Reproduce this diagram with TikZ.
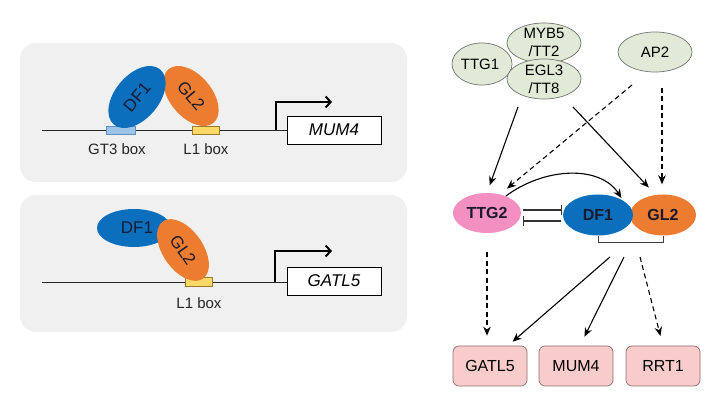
\documentclass[tikz,border=0pt]{standalone}
\usepackage{fontspec}
\setmainfont{Liberation Sans}
\usetikzlibrary{shapes.geometric,arrows.meta}
\definecolor{panelgray}{HTML}{F0F0F0}
\definecolor{dfblue}{HTML}{0B6FBE}
\definecolor{glorange}{HTML}{EC7C30}
\definecolor{gtblue}{HTML}{9DC3E6}
\definecolor{gtborder}{HTML}{5B8FC7}
\definecolor{lyellow}{HTML}{FFD966}
\definecolor{lyborder}{HTML}{9C7A2A}
\definecolor{pgreen}{HTML}{E1EAD6}
\definecolor{ttgpink}{HTML}{F48FC2}
\definecolor{tpink}{HTML}{F9CCCC}
\definecolor{tborder}{HTML}{8E6E6E}
\definecolor{txtdark}{HTML}{1A1A2E}
\begin{document}
\begin{tikzpicture}[x=1pt,y=-1pt,
  panel/.style={fill=panelgray, rounded corners=16pt, minimum width=387pt, minimum height=139pt, inner sep=0pt},
  dna/.style={line width=0.9pt, black!85},
  site/.style={draw, line width=0.7pt, minimum width=29pt, minimum height=8pt, inner sep=0pt},
  sitelabel/.style={font=\fontsize{15}{17}\selectfont, text=black!85},
  genebox/.style={draw, fill=white, line width=0.8pt, minimum width=94pt, minimum height=28pt, inner sep=0pt, font=\fontsize{17}{19}\selectfont\itshape},
  tss/.style={line width=2pt, -{Straight Barb[length=5pt,width=11pt,line width=2pt]}},
  dfell/.style={ellipse, fill=dfblue, inner sep=0pt, font=\fontsize{17}{19}\selectfont, text=txtdark},
  glell/.style={ellipse, fill=glorange, inner sep=0pt, font=\fontsize{17}{19}\selectfont, text=txtdark},
  gell/.style={ellipse, draw=black!55, line width=0.7pt, fill=pgreen, inner sep=0pt, minimum width=74pt, minimum height=40pt},
  gtxt/.style={font=\fontsize{15}{18}\selectfont, align=center, inner sep=0pt},
  bigell/.style={ellipse, inner sep=0pt, minimum width=68pt, minimum height=41pt, font=\fontsize{16}{18}\selectfont\bfseries, text=txtdark},
  target/.style={draw=tborder, fill=tpink, line width=0.7pt, rounded corners=6pt, minimum width=74pt, minimum height=40pt, inner sep=0pt, font=\fontsize{16}{18}\selectfont},
  arr/.style={line width=1.1pt, -{Stealth[length=9pt,width=7.5pt]}},
  darr/.style={arr, dash pattern=on 5pt off 3.5pt},
  inh/.style={line width=1.1pt, black!80, -{Bar[width=10pt,line width=1.1pt]}}
]
\useasboundingbox (0,0) rectangle (724,403);
\fill[white] (0,0) rectangle (724,403);

% ---------- Panel 1 ----------
\node[panel] (p1) at (213.5,112.5) {};
\node[genebox] (mum) at (334,130) {MUM4};
\coordinate (dna1) at (42,130);
\draw[dna] (dna1) -- (mum.west);
\node[site, fill=gtblue, draw=gtborder] (gt3) at (121,130) {};
\node[site, fill=lyellow, draw=lyborder, minimum width=27pt] (l1a) at (205.5,130) {};
\node[sitelabel] (gt3l) at (117,149) {GT3 box};
\node[sitelabel] (l1al) at (206,149) {L1 box};
\node[glell, minimum width=70pt, minimum height=42pt, rotate=-50] (gl2a) at (191,96) {GL2};
\node[dfell, minimum width=72pt, minimum height=44pt, rotate=50] (df1a) at (137,97) {DF1};
\coordinate (tssa) at (276,130);
\coordinate (tssb) at (276,102);
\coordinate (tssc) at (332,102);
\draw[tss] (tssa) -- (tssb) -- (tssc);

% ---------- Panel 2 ----------
\node[panel, minimum height=137pt] (p2) at (213.5,263.5) {};
\node[genebox] (gatla) at (334,281) {GATL5};
\coordinate (dna2) at (42,282);
\draw[dna] (dna2) -- (gatla.west |- dna2);
\node[site, fill=lyellow, draw=lyborder, minimum width=27pt, minimum height=9pt] (l1b) at (198.5,282) {};
\node[sitelabel] (l1bl) at (199,303) {L1 box};
\node[dfell, minimum width=74pt, minimum height=38pt] (df1b) at (134,228) {\hspace*{6pt}DF1};
\node[glell, minimum width=70pt, minimum height=40pt, rotate=-55] (gl2b) at (183,250) {GL2};
\coordinate (tssd) at (275,282);
\coordinate (tsse) at (275,251);
\coordinate (tssf) at (332,251);
\draw[tss] (tssd) -- (tsse) -- (tssf);

% ---------- Network ----------
\node[gell, minimum width=60pt, minimum height=42pt] (ttg1) at (482,64) {};
\node[gtxt] (ttg1l) at (480,64) {TTG1};
\node[gell] (myb) at (544,43) {};
\node[gtxt] (mybl) at (544,42) {MYB5\\/TT2};
\node[gell] (egl) at (544,79) {};
\node[gtxt] (egll) at (544,79) {EGL3\\/TT8};
\node[gell] (ap2) at (655,52) {};
\node[gtxt] (ap2l) at (655,52) {AP2};

\node[bigell, fill=ttgpink, minimum width=68pt, minimum height=40pt] (ttg2) at (487,213) {TTG2};
\node[bigell, fill=glorange, minimum width=66pt] (gl2) at (663,215) {GL2};
\node[bigell, fill=dfblue, minimum width=70pt] (df1) at (598,215) {DF1};

\node[target] (gatl) at (490,366) {GATL5};
\node[target] (mumt) at (576,366) {MUM4};
\node[target] (rrt) at (663,366) {RRT1};

% arrows from complex
\coordinate (s1) at (518,107);
\coordinate (s2) at (573,107);
\coordinate (s3) at (632,85);
\coordinate (s4) at (662,88);
\draw[arr, shorten >=8pt] (s1) -- (ttg2.north);
\draw[arr, shorten >=10pt] (s2) -- (gl2.110);
\draw[darr, shorten >=9pt] (s3) -- (ttg2.55);
\draw[darr, shorten >=10pt] (s4) -- (s4 |- gl2.north);

% TTG2 -> GL2 curve
\draw[arr, shorten >=3pt] (ttg2.42) .. controls (545,167) and (600,165) .. (df1.30);

% inhibitions
\coordinate (i1) at (523,210);
\coordinate (i2) at (562,210);
\coordinate (i3) at (561,221);
\coordinate (i4) at (523,221);
\draw[inh] (i1) -- (i2);
\draw[inh] (i3) -- (i4);

% bracket
\draw[line width=1pt, black!75] (df1.south) -- ++(0,7) -| (gl2.south);

% downstream arrows
\coordinate (b1) at (610,257);
\coordinate (b2) at (624,257);
\coordinate (b3) at (640,257);
\draw[arr, shorten >=6pt] (b1) -- ([xshift=18pt]gatl.north);
\draw[arr, shorten >=10pt] (b2) -- ([xshift=4pt]mumt.north);
\draw[darr, shorten >=10pt] (b3) -- (rrt.north);
\draw[darr, shorten <=19pt, shorten >=10pt] (ttg2.south) -- (ttg2.south |- gatl.north);
\end{tikzpicture}
\end{document}
